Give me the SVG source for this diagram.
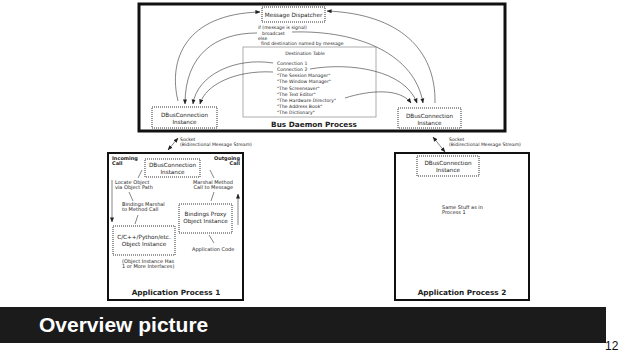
<svg xmlns="http://www.w3.org/2000/svg" width="638" height="359" viewBox="0 0 638 359">
<defs>
<marker id="ah" viewBox="0 0 6 6" refX="5.5" refY="3" markerWidth="5" markerHeight="5" orient="auto-start-reverse" markerUnits="userSpaceOnUse">
<path d="M0,0.6 L6,3 L0,5.4 Z" fill="#222"/>
</marker>
</defs>
<style>
text{font-family:"DejaVu Sans","Liberation Sans",sans-serif;fill:#222}
.big{stroke:#111;stroke-width:3;fill:none}
.mid{stroke:#111;stroke-width:2;fill:none}
.dot{stroke:#333;stroke-width:1;stroke-dasharray:1 1;fill:#fff}
.c{stroke:#333;stroke-width:0.6;fill:none}
.a{marker-end:url(#ah)}
.n{font-size:5.7px;text-anchor:middle}
.s{font-size:4.6px}
.l{font-size:5px}
.b{font-weight:bold}
.t{font-size:7.3px;font-weight:bold;text-anchor:middle}
</style>
<rect width="638" height="359" fill="#fff"/>

<g id="bus-daemon">
<rect class="big" x="139" y="4" width="366" height="127"/>
<text class="t" x="314" y="127">Bus Daemon Process</text>
</g>

<g id="message-dispatcher">
<rect class="dot" x="262" y="7" width="63" height="15"/>
<text class="n" x="293.5" y="17">Message Dispatcher</text>
<text class="s" x="258" y="29">if (message is signal)</text>
<text class="s" x="262" y="34.5">broadcast</text>
<text class="s" x="258" y="39.5">else</text>
<text class="s" x="261" y="45">find destination named by message</text>
</g>

<g id="destination-table">
<rect x="243" y="47" width="133" height="70" fill="none" stroke="#999" stroke-width="0.8"/>
<text class="s" x="305" y="55" text-anchor="middle">Destination Table</text>
<text class="s" x="277" y="65">Connection 1</text>
<text class="s" x="277" y="71.2">Connection 2</text>
<text class="s" x="277" y="77.3">"The Session Manager"</text>
<text class="s" x="277" y="83.4">"The Window Manager"</text>
<text class="s" x="277" y="89.5">"The Screensaver"</text>
<text class="s" x="277" y="95.6">"The Text Editor"</text>
<text class="s" x="277" y="101.7">"The Hardware Directory"</text>
<text class="s" x="277" y="107.8">"The Address Book"</text>
<text class="s" x="277" y="113.9">"The Dictionary"</text>
</g>

<g id="bus-dbus-left">
<rect class="dot" x="152" y="107" width="65" height="21"/>
<text class="n" x="184.5" y="117">DBusConnection</text>
<text class="n" x="184.5" y="124">Instance</text>
</g>

<g id="bus-dbus-right">
<rect class="dot" x="398" y="108" width="63" height="20"/>
<text class="n" x="429.5" y="117.5">DBusConnection</text>
<text class="n" x="429.5" y="124.5">Instance</text>
</g>

<g id="app1">
<rect class="mid" x="108" y="153" width="135" height="147"/>
<text class="t" x="176" y="295">Application Process 1</text>
<text class="l b" x="112" y="159.5" font-size="4.8px">Incoming</text>
<text class="l b" x="112" y="164.5" font-size="4.8px">Call</text>
<text class="l b" x="240" y="159.5" font-size="4.8px" text-anchor="end">Outgoing</text>
<text class="l b" x="240" y="164.5" font-size="4.8px" text-anchor="end">Call</text>
<text class="l" x="115" y="184">Locate Object</text>
<text class="l" x="115" y="189">via Object Path</text>
<text class="l" x="233" y="184" text-anchor="end">Marshal Method</text>
<text class="l" x="233" y="189" text-anchor="end">Call to Message</text>
<text class="l" x="122" y="206">Bindings Marshal</text>
<text class="l" x="122" y="211">to Method Call</text>
<text class="l" x="192" y="251">Application Code</text>
<text class="l" x="122" y="263">(Object Instance Has</text>
<text class="l" x="122" y="268">1 or More Interfaces)</text>
</g>

<g id="app1-dbus">
<rect class="dot" x="145" y="159" width="55" height="18"/>
<text class="n" x="172.5" y="167">DBusConnection</text>
<text class="n" x="172.5" y="174">Instance</text>
</g>

<g id="app1-proxy">
<rect class="dot" x="179" y="204" width="53" height="29"/>
<text class="n" x="205.5" y="216" font-size="6px">Bindings Proxy</text>
<text class="n" x="205.5" y="223" font-size="6px">Object Instance</text>
</g>

<g id="app1-object">
<rect class="dot" x="113" y="226" width="62" height="29"/>
<text class="n" x="144" y="238.5" font-size="6.2px">C/C++/Python/etc.</text>
<text class="n" x="144" y="245.5" font-size="6.2px">Object Instance</text>
</g>

<g id="app2">
<rect class="mid" x="395" y="153" width="134" height="147"/>
<text class="t" x="462" y="295">Application Process 2</text>
<text class="l" x="442" y="209" font-size="4.7px">Same Stuff as in</text>
<text class="l" x="442" y="214" font-size="4.7px">Process 1</text>
</g>

<g id="app2-dbus">
<rect class="dot" x="417" y="156" width="62" height="20"/>
<text class="n" x="448" y="165">DBusConnection</text>
<text class="n" x="448" y="172">Instance</text>
</g>

<g id="socket-labels">
<text class="s" x="180" y="141" font-size="4.5px">Socket</text>
<text class="s" x="180" y="146" font-size="4.5px">(Bidirectional Message Stream)</text>
<text class="s" x="449" y="141" font-size="4.5px">Socket</text>
<text class="s" x="449" y="146" font-size="4.5px">(Bidirectional Message Stream)</text>
</g>

<g id="connectors">
<path class="c a" d="M178,101 C168,60 185,14 260,12"/>
<path class="c a" d="M257,33 C215,33 185,55 185,104"/>
<path class="c a" d="M273,63 C235,57 197,75 193,104"/>
<path class="c a" d="M273,72 C235,70 205,85 200,104"/>
<path class="c a" d="M435,103 C436,50 400,14 327,11"/>
<path class="c a" d="M292,32 C360,30 415,55 423,103"/>
<path class="c a" d="M310,69 C350,62 405,70 417,103"/>
<path class="c a" d="M345,98 C370,90 400,88 411,103"/>
<path class="c a" d="M168,150 L178,138" marker-start="url(#ah)"/>
<path class="c a" d="M433,137 L445,152" marker-start="url(#ah)"/>
<path class="c a" d="M112,180 L112,222"/>
<path class="c a" d="M238,225 L238,194"/>
<path class="c" d="M142,170 L138,178"/>
<path class="c" d="M210,170 L214,178"/>
<path class="c" d="M129,192 L133,201"/>
<path class="c" d="M214,192 L211,201"/>
<path class="c" d="M138,215 L135,224"/>
<path class="c" d="M209,235 L214,243"/>
</g>

<g id="footer">
<rect x="0" y="307" width="606" height="36" fill="#1b1b1b"/>
<text x="39" y="332" font-family="Liberation Sans, Arial, sans-serif" font-size="21px" font-weight="bold" style="fill:#fff;font-family:'Liberation Sans',Arial,sans-serif">Overview picture</text>
<text x="605" y="350" style="fill:#111;font-family:'Liberation Sans',Arial,sans-serif;font-size:12px">12</text>
</g>
</svg>
